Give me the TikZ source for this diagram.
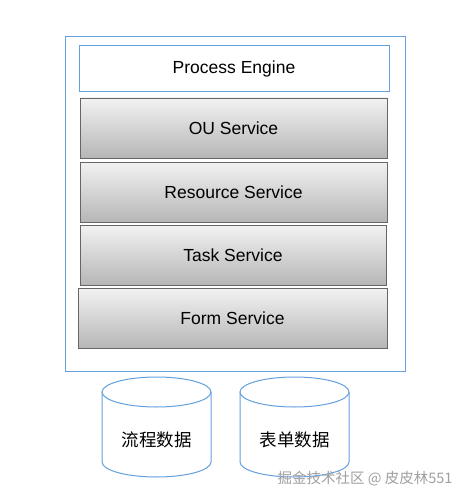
\documentclass[tikz,border=0pt]{standalone}
\usepackage{fontspec}
\setmainfont{Liberation Sans}
\newfontfamily\cjk{Noto Sans CJK SC}
\definecolor{lineblue}{RGB}{100,160,222}
\definecolor{boxedge}{RGB}{102,102,102}
\definecolor{gtop}{RGB}{242,242,242}
\definecolor{gbot}{RGB}{182,182,182}
\definecolor{wm}{RGB}{160,160,160}
\begin{document}
\begin{tikzpicture}[x=1pt,y=-1pt,
  svcbox/.style={draw=boxedge,line width=0.8pt,top color=gtop,bottom color=gbot},
  lbl/.style={font=\fontsize{17.5}{20}\selectfont,text=black},
  cjklbl/.style={font=\cjk\fontsize{17.5}{20}\selectfont,text=black},
  blueline/.style={draw=lineblue,line width=1pt}]
\useasboundingbox (0,0) rectangle (470,500);
\fill[white] (0,0) rectangle (470,500);
% outer container
\draw[blueline] (65,37) rectangle (405,371);
% process engine
\draw[blueline,fill=white] (79,46) rectangle (389,92);
\node[lbl] (pe) at (234,69) {Process Engine};
% services
\draw[svcbox] (80,98) rectangle (387,158);
\node[lbl] (ou) at (233.5,128) {OU Service};
\draw[svcbox] (80,162) rectangle (387,222);
\node[lbl] (res) at (233.5,192) {Resource Service};
\draw[svcbox] (80,225) rectangle (386,285);
\node[lbl] (task) at (233,255) {Task Service};
\draw[svcbox] (78,288) rectangle (387,348);
\node[lbl] (form) at (232.5,318) {Form Service};
% cylinders
\foreach \cx in {156.5,294.5}{
  \draw[blueline,fill=white] (\cx-54.5,392) -- (\cx-54.5,462)
     arc[start angle=180,end angle=0,x radius=54.5,y radius=15]
     -- (\cx+54.5,392);
  \draw[blueline,fill=white] (\cx,392) ellipse[x radius=54.5,y radius=15];
}
\node[cjklbl] (d1) at (156.5,440) {流程数据};
\node[cjklbl] (d2) at (294.5,440) {表单数据};
% watermark
\node[font=\cjk\fontsize{14.5}{16}\selectfont,text=wm,anchor=east] (wmk) at (456,479) {掘金技术社区 @ 皮皮林551};
\end{tikzpicture}
\end{document}
